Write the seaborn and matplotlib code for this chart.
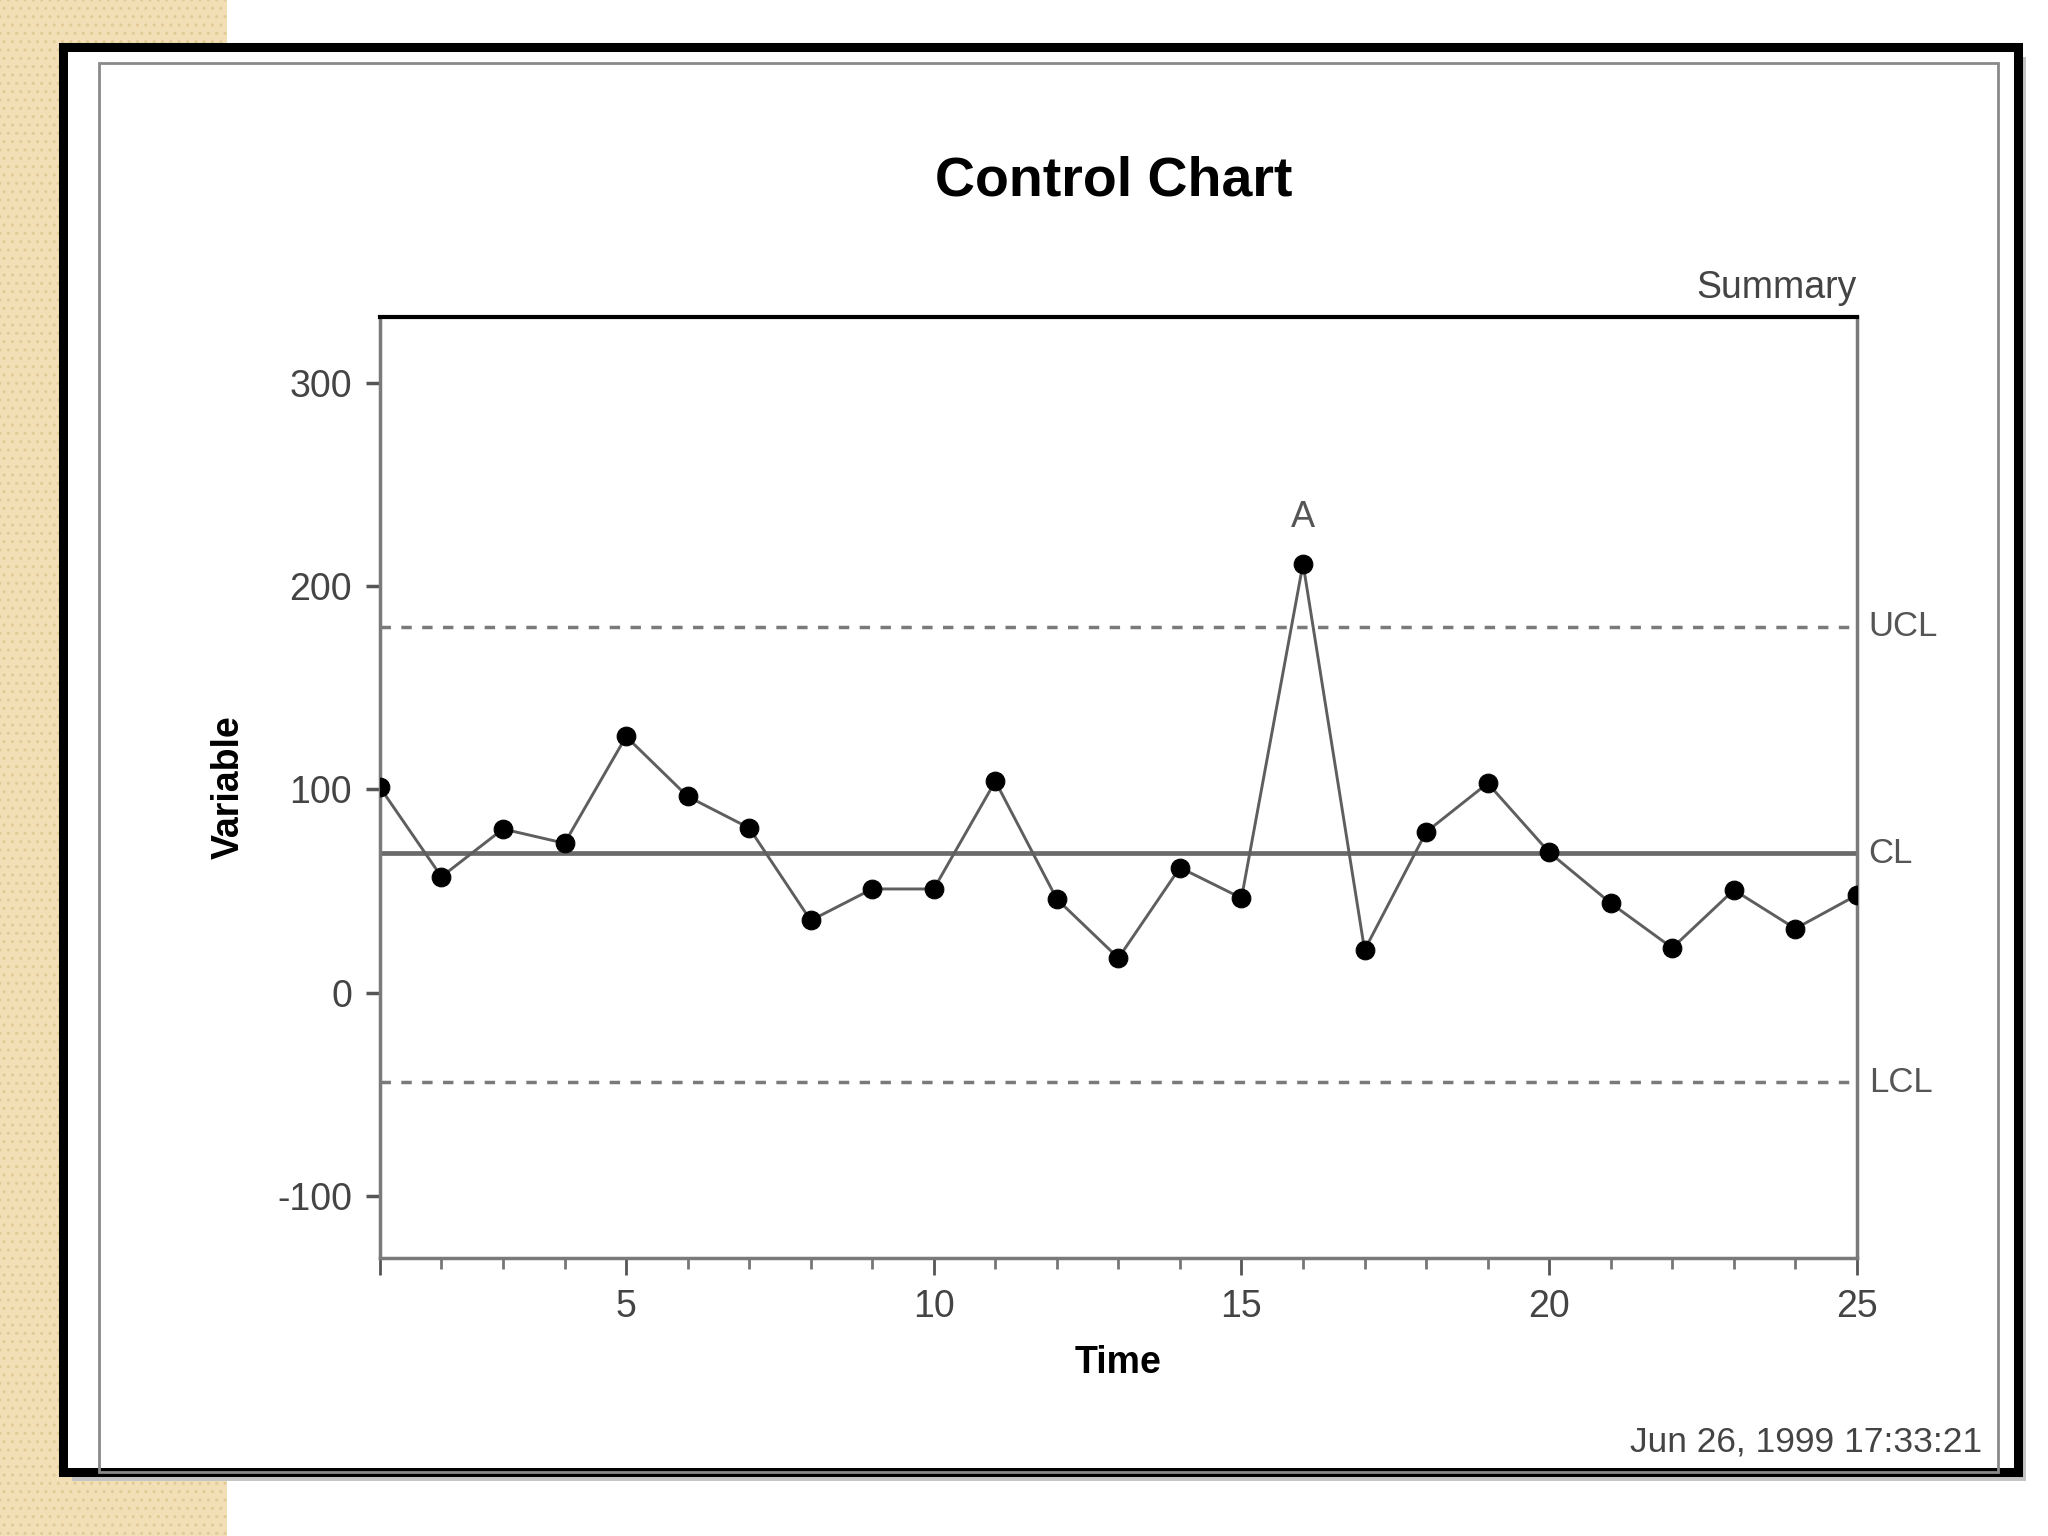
import matplotlib
matplotlib.use("Agg")
import matplotlib.pyplot as plt
import matplotlib.transforms as mtransforms
from matplotlib.patches import Rectangle
import seaborn as sns

# data
time = list(range(1, 26))
variable = [101, 57, 80.5, 73.5, 126, 96.5, 81, 35.5, 51, 51,
            104, 46, 17, 61.5, 46.5, 211, 21, 79, 103, 69,
            44, 22, 50.5, 31.5, 48]
limit_names = ["UCL", "CL", "LCL"]
limit_values = [180, 68.5, -44]
xtick_vals = [1, 5, 10, 15, 20, 25]
xtick_labels = ["", "5", "10", "15", "20", "25"]
ytick_vals = [-100, 0, 100, 200, 300]
flag_point = 16
flag_text = "A"

sns.set_theme(style="white")
plt.rcParams["font.family"] = ["Liberation Sans", "DejaVu Sans"]
narrow = ["Liberation Sans Narrow", "Liberation Sans", "DejaVu Sans"]

fig = plt.figure(figsize=(20.48, 15.36), dpi=100)
fig.patch.set_facecolor("white")

# beige strip on the left, and the framed "window"
plt.rcParams["hatch.color"] = "#e2c996"
plt.rcParams["hatch.linewidth"] = 1.0
fig.patches.append(Rectangle((0, 0), 227 / 2048, 1, transform=fig.transFigure,
                             facecolor="#f2dfb6", edgecolor="#e2c996", hatch="..",
                             linewidth=0, zorder=0))
fig.patches.append(Rectangle((0.031 + 0.004, 0.0417 - 0.006), 0.9544, 0.9274,
                             transform=fig.transFigure, facecolor="#c4c4c4",
                             edgecolor="none", zorder=1))
fig.patches.append(Rectangle((0.031, 0.0417), 0.9544, 0.9274, transform=fig.transFigure,
                             facecolor="white", edgecolor="black", linewidth=6.5, zorder=2))
fig.patches.append(Rectangle((98.5 / 2048, 0.0417), (1998 - 98.5) / 2048, 1 - 62.5 / 1536 - 0.0417,
                             transform=fig.transFigure, facecolor="none",
                             edgecolor="#8a8a8a", linewidth=2, zorder=3))

ax = fig.add_axes([0.1855, 0.181, 0.7212, 0.6126])
ax.set_facecolor("none")
ax.set_zorder(5)

# control limits
trans = mtransforms.blended_transform_factory(ax.transAxes, ax.transData)
for name, val in zip(limit_names, limit_values):
    if name == "CL":
        ax.axhline(val, color="#6a6a6a", lw=3.4, zorder=2)
    else:
        ax.axhline(val, color="#7a7a7a", lw=2.5, ls=(0, (3, 3)), zorder=2)
    ax.text(1.008, val, name, transform=trans, ha="left", va="center",
            fontsize=25, color="#555555", family=narrow)

sns.lineplot(x=time, y=variable, ax=ax, color="#5e5e5e", lw=2.1,
             marker="o", markersize=13.5, markerfacecolor="black",
             markeredgecolor="black", zorder=3)

fi = time.index(flag_point)
ax.annotate(flag_text, (time[fi], variable[fi]), xytext=(0, 33),
            textcoords="offset points", ha="center", va="center",
            fontsize=26, color="#555555", family=narrow)

ax.set_xlim(1, 25)
ax.set_ylim(-130.5, 332.3)
ax.set_xticks(xtick_vals)
ax.set_xticklabels(xtick_labels)
ax.set_xticks(time, minor=True)
ax.set_yticks(ytick_vals)
ax.set_yticklabels([str(v) for v in ytick_vals])

ax.tick_params(axis="x", which="major", direction="out", length=12, width=2,
               color="#555555", pad=10, labelsize=27, labelcolor="#444444", bottom=True)
ax.tick_params(axis="x", which="minor", direction="out", length=8, width=2,
               color="#777777", bottom=True)
ax.tick_params(axis="y", which="major", direction="out", length=10, width=2.5,
               color="#555555", pad=10, labelsize=27, labelcolor="#444444", left=True)
for lab in ax.get_xticklabels() + ax.get_yticklabels():
    lab.set_family(narrow)

for side in ["left", "right", "bottom"]:
    ax.spines[side].set_color("#7a7a7a")
    ax.spines[side].set_linewidth(2.5)
ax.spines["top"].set_color("black")
ax.spines["top"].set_linewidth(3)

ax.set_xlabel("Time", fontsize=27, fontweight="bold", color="black")
ax.set_ylabel("Variable", fontsize=27, fontweight="bold", color="black")
ax.xaxis.set_label_coords(0.5, -0.093)
ax.yaxis.set_label_coords(-0.09, 0.5)

ax.text(1.0, 1.012, "Summary", transform=ax.transAxes, ha="right", va="bottom",
        fontsize=27, color="#444444", family=narrow)

fig.text(0.544, 0.882, "Control Chart", ha="center", va="center",
         fontsize=40, fontweight="bold", color="black")
fig.text(0.968, 0.061, "Jun 26, 1999 17:33:21", ha="right", va="center",
         fontsize=25.5, color="#444444", family=narrow)

fig.savefig("out.png", dpi=100)
